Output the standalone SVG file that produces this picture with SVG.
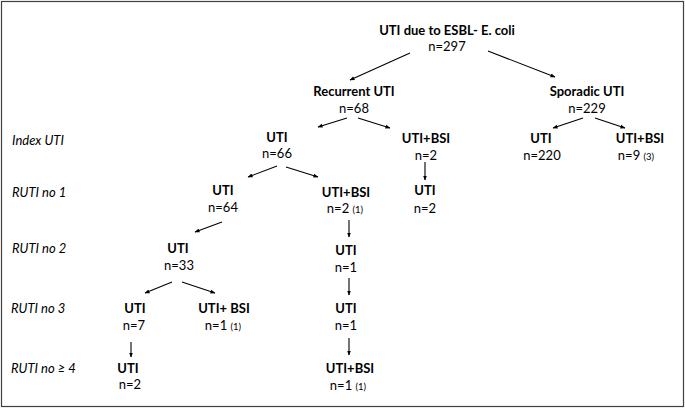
<svg xmlns="http://www.w3.org/2000/svg" width="685" height="409" viewBox="0 0 685 409">
<defs>
<marker id="ah" viewBox="0 0 10 10" refX="9" refY="5" markerWidth="5" markerHeight="5" orient="auto" markerUnits="userSpaceOnUse">
<path d="M0,1 L10,5 L0,9 Z" fill="#000"/>
</marker>
<style>
text{font-family:Lato,"Liberation Sans",sans-serif;font-size:13px;fill:#000}
.b{font-weight:bold;text-anchor:middle}
.n{text-anchor:middle}
.s{font-size:9.5px}
.lab{font-style:italic}
.c line{stroke:#000;stroke-width:1.1;marker-end:url(#ah)}
</style>
</defs>
<rect x="1.5" y="1.5" width="682" height="405" fill="#fff" stroke="#404040" stroke-width="1.2"/>
<g id="row-labels">
<text class="lab" x="12" y="145">Index UTI</text>
<text class="lab" x="12" y="197">RUTI no 1</text>
<text class="lab" x="12" y="253">RUTI no 2</text>
<text class="lab" x="11" y="313">RUTI no 3</text>
<text class="lab" x="11" y="373">RUTI no ≥ 4</text>
</g>
<g id="root"><text class="b" x="447" y="35">UTI due to ESBL- E. coli</text><text class="n" x="447" y="51">n=297</text></g>
<g id="recurrent"><text class="b" x="354" y="96">Recurrent UTI</text><text class="n" x="354" y="113">n=68</text></g>
<g id="sporadic"><text class="b" x="587" y="96">Sporadic UTI</text><text class="n" x="587" y="113">n=229</text></g>
<g id="index-uti"><text class="b" x="277" y="142">UTI</text><text class="n" x="277" y="158">n=66</text></g>
<g id="index-utibsi"><text class="b" x="426" y="143">UTI+BSI</text><text class="n" x="426" y="160">n=2</text></g>
<g id="spor-uti"><text class="b" x="541" y="143">UTI</text><text class="n" x="542" y="160">n=220</text></g>
<g id="spor-utibsi"><text class="b" x="640" y="143">UTI+BSI</text><text class="n" x="636" y="160">n=9 <tspan class="s">(3)</tspan></text></g>
<g id="r1-uti"><text class="b" x="223" y="195">UTI</text><text class="n" x="223" y="212">n=64</text></g>
<g id="r1-utibsi"><text class="b" x="346" y="197">UTI+BSI</text><text class="n" x="345" y="213">n=2 <tspan class="s">(1)</tspan></text></g>
<g id="r1-uti-b"><text class="b" x="425" y="195">UTI</text><text class="n" x="425" y="213">n=2</text></g>
<g id="r2-uti"><text class="b" x="178" y="253">UTI</text><text class="n" x="179" y="270">n=33</text></g>
<g id="r2-uti-b"><text class="b" x="346" y="255">UTI</text><text class="n" x="346" y="272">n=1</text></g>
<g id="r3-uti"><text class="b" x="135" y="313">UTI</text><text class="n" x="134" y="330">n=7</text></g>
<g id="r3-utibsi"><text class="b" x="224" y="313">UTI+ BSI</text><text class="n" x="223" y="330">n=1 <tspan class="s">(1)</tspan></text></g>
<g id="r3-uti-b"><text class="b" x="346" y="313">UTI</text><text class="n" x="346" y="330">n=1</text></g>
<g id="r4-uti"><text class="b" x="128" y="373">UTI</text><text class="n" x="130" y="389">n=2</text></g>
<g id="r4-utibsi"><text class="b" x="350" y="373">UTI+BSI</text><text class="n" x="348" y="390">n=1 <tspan class="s">(1)</tspan></text></g>
<g id="connectors" class="c">
<line x1="410" y1="53" x2="350" y2="80"/>
<line x1="488" y1="51" x2="555" y2="77"/>
<line x1="347" y1="118" x2="318" y2="127"/>
<line x1="358" y1="118" x2="390" y2="128"/>
<line x1="583" y1="118" x2="553" y2="128"/>
<line x1="595" y1="118" x2="625" y2="128"/>
<line x1="277" y1="166" x2="248" y2="177"/>
<line x1="286" y1="167" x2="318" y2="177"/>
<line x1="425" y1="162" x2="425" y2="180"/>
<line x1="222" y1="222" x2="195" y2="232"/>
<line x1="349" y1="220" x2="349" y2="237"/>
<line x1="172" y1="282" x2="145" y2="293"/>
<line x1="182" y1="282" x2="215" y2="293"/>
<line x1="349" y1="278" x2="349" y2="295"/>
<line x1="131" y1="342" x2="131" y2="357"/>
<line x1="349" y1="338" x2="349" y2="355"/>
</g>
</svg>
